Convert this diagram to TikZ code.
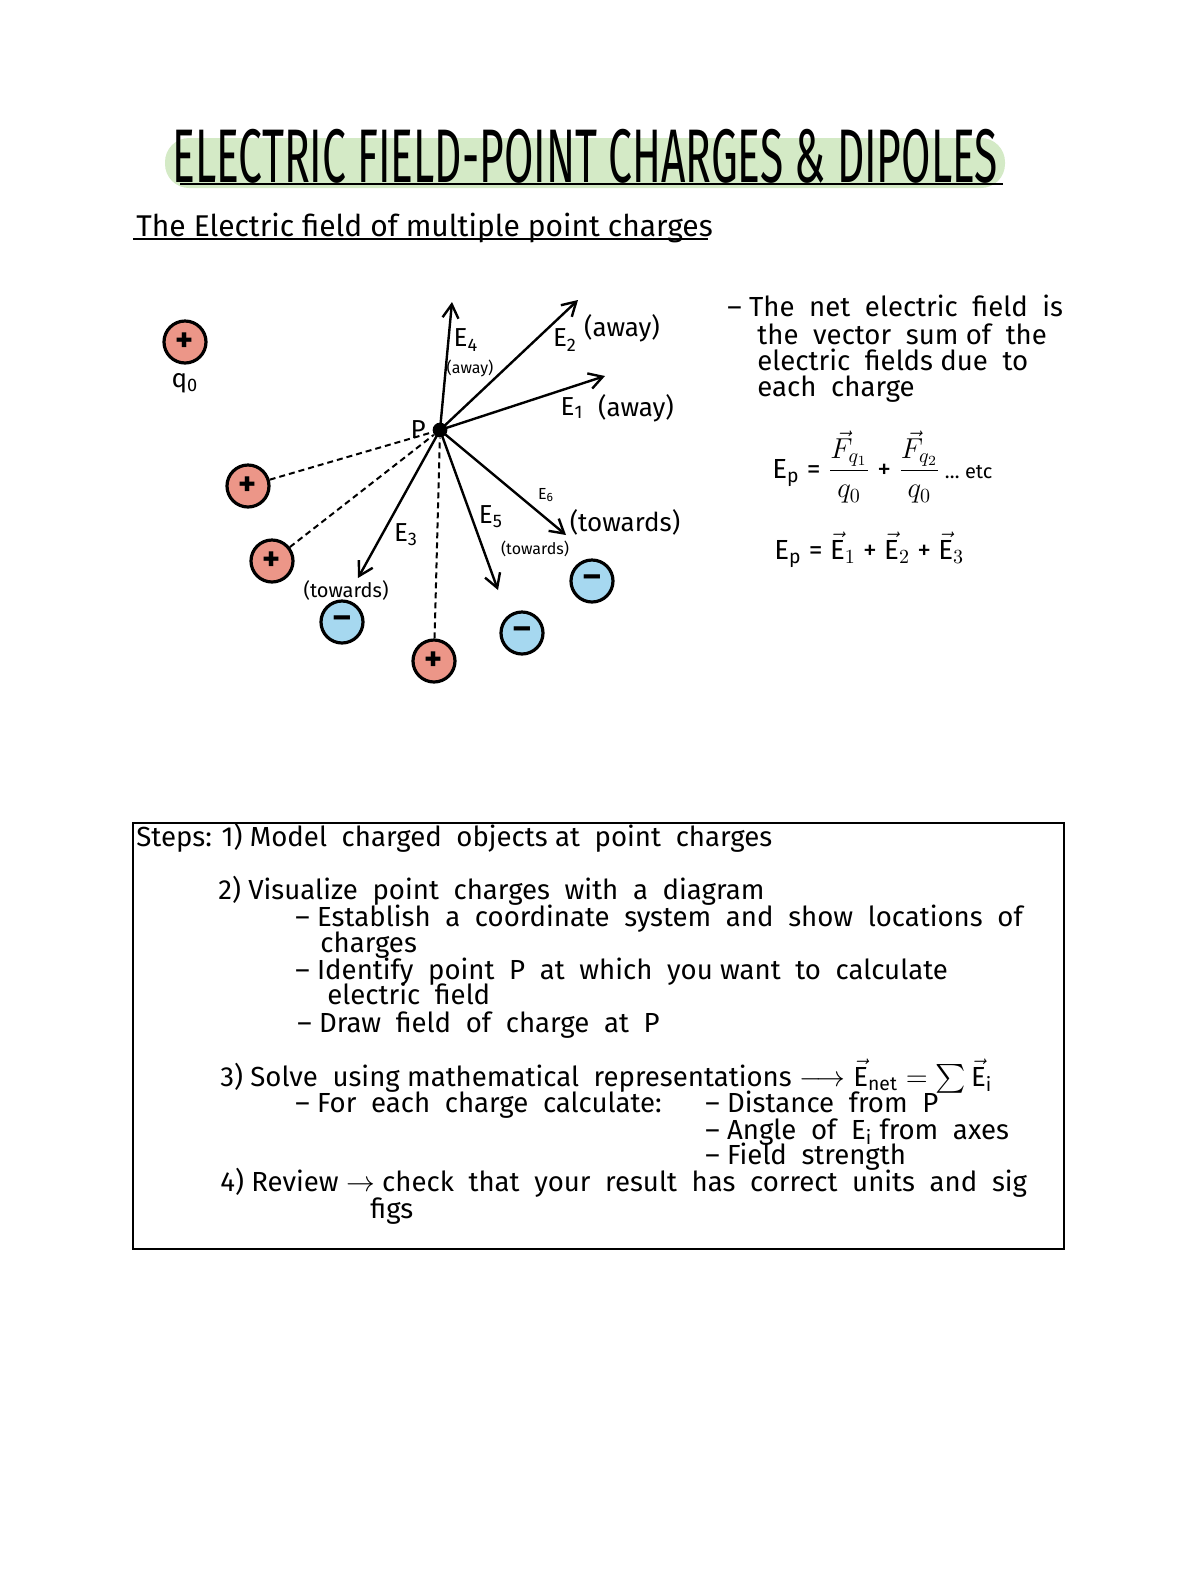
\documentclass[tikz,border=0pt]{standalone}
\usepackage{fontspec}
\setmainfont{Fira Sans}
\newfontfamily\titlefont[FakeStretch=0.56]{Fira Sans}
\usepackage{amsmath}
\usepackage{xcolor}
\usetikzlibrary{arrows.meta,positioning,calc}
\definecolor{plusred}{RGB}{236,150,136}
\definecolor{minusblue}{RGB}{166,216,240}
\definecolor{titlegreen}{RGB}{212,234,198}

\begin{document}
\begin{tikzpicture}[
  x=0.5pt,y=-0.5pt,
  font=\fontsize{13.8}{16}\selectfont,
  plusq/.style={circle,draw,line width=1.6pt,fill=plusred,minimum size=21pt,inner sep=0pt,font=\bfseries\fontsize{17}{17}\selectfont},
  minusq/.style={plusq,fill=minusblue},
  fvec/.style={-{Straight Barb[length=2.4mm,width=2.8mm]},line width=1.2pt},
  link/.style={densely dashed,line width=1pt},
  lab/.style={inner sep=0pt,font=\fontsize{13}{15}\selectfont},
  mid/.style={inner sep=0pt,font=\fontsize{10}{12}\selectfont},
  sm/.style={inner sep=0pt,font=\fontsize{8}{9}\selectfont},
  txt/.style={anchor=base west,inner sep=0pt},
  uline/.style={line width=1.3pt}
]
\useasboundingbox (0,0) rectangle (1200,1570);

% title
\fill[titlegreen,rounded corners=12pt] (165,138) rectangle (1005,188);
\node[txt,font=\titlefont\fontsize{38}{40}\selectfont] (title) at (172,182) {ELECTRIC FIELD-POINT CHARGES \& DIPOLES};
\draw[uline] (180,184) -- (1003,184);
\node[txt,font=\fontsize{15}{17}\selectfont] (sub) at (136,236) {The Electric field of multiple point charges};
\draw[uline] (133,239) -- (708,239);

% charges
\node[plusq] (q0) at (185,342) {+};
\node[lab,below=4pt of q0] (q0lab) {q\textsubscript{0}};
\node[plusq] (q1) at (248,486) {+};
\node[plusq] (q2) at (272,561) {+};
\node[minusq] (q3) at (342,622) {--};
\node[plusq] (q4) at (434,661) {+};
\node[minusq] (q5) at (522,633) {--};
\node[minusq] (q6) at (592,581) {--};

\node[circle,fill,inner sep=2.6pt] (P) at (440,430) {};
\node[lab,left=3pt of P] (Plab) {P};

\coordinate (t1) at (605,376);
\coordinate (t2) at (578,300);
\coordinate (t3) at (358,578);
\coordinate (t4) at (452,302);
\coordinate (t5) at (498,590);
\coordinate (t6) at (566,535);

\draw[link] (q1) -- (P);
\draw[link] (q2) -- (P);
\draw[link] (q4) -- (P);

\draw[fvec] (P.center) -- (t1);
\draw[fvec] (P.center) -- (t2);
\draw[fvec] (P.center) -- (t3);
\draw[fvec] (P.center) -- (t4);
\draw[fvec] (P.center) -- (t5);
\draw[fvec] (P.center) -- (t6);

% field labels
\node[lab] (e1) at (572,408) {E\textsubscript{1}};
\node[lab] (a1) at (636,408) {(away)};
\node[lab] (e2) at (565,340) {E\textsubscript{2}};
\node[lab] (a2) at (622,328) {(away)};
\node[lab] (e3) at (406,535) {E\textsubscript{3}};
\node[mid] (a3) at (346,590) {(towards)};
\node[lab] (e4) at (466,340) {E\textsubscript{4}};
\node[sm] (a4) at (470,368) {(away)};
\node[lab] (e5) at (491,517) {E\textsubscript{5}};
\node[sm] (a5) at (535,549) {(towards)};
\node[sm] (e6) at (546,495) {E\textsubscript{6}};
\node[lab] (a6) at (625,522) {(towards)};

% note
\node[txt] (n1) at (727,316) {-- The\ \ net\ \ electric\ \ field\ \ is};
\node[txt] (n2) at (757,344) {the\ \ vector\ \ sum of\ \ the};
\node[txt] (n3) at (757,370) {electric\ \ fields\ due\ \ to};
\node[txt] (n4) at (757,396) {each\ \ charge};

\node[txt] (eq1) at (772,478) {E\textsubscript{p} = $\dfrac{\vec{F}_{q_1}}{q_0}$ + $\dfrac{\vec{F}_{q_2}}{q_0}$\,\fontsize{10}{12}\selectfont\dots\ etc};
\node[txt] (eq2) at (774,559) {E\textsubscript{p} = $\vec{\mathrm{E}}_1$ + $\vec{\mathrm{E}}_2$ + $\vec{\mathrm{E}}_3$};

% steps
\draw[line width=1.3pt] (133,823) rectangle (1064,1249);
\node[txt] (s1) at (136,846) {Steps: 1) Model\ \ charged\ \ objects at\ \ point\ \ charges};
\node[txt] (s2) at (218,899) {2) Visualize\ \ point\ \ charges\ \ with\ \ a\ \ diagram};
\node[txt] (s2a) at (295,926) {-- Establish\ \ a\ \ coordinate\ \ system\ \ and\ \ show\ \ locations\ \ of};
\node[txt] (s2b) at (320,952) {charges};
\node[txt] (s2c) at (295,979) {-- Identify\ \ point\ \ P\ \ at\ \ which\ \ you\ want\ \ to\ \ calculate};
\node[txt] (s2d) at (327,1004) {electric\ \ field};
\node[txt] (s2e) at (297,1032) {-- Draw\ \ field\ \ of\ \ charge\ \ at\ \ P};
\node[txt] (s3) at (220,1086) {3) Solve\ \ using\ mathematical\ \ representations $\longrightarrow \vec{\mathrm{E}}_{\text{net}} = \sum \vec{\mathrm{E}}_{\text{i}}$};
\node[txt] (s3a) at (295,1112) {-- For\ \ each\ \ charge\ \ calculate:};
\node[txt] (s3b) at (705,1112) {-- Distance\ \ from\ \ P};
\node[txt] (s3c) at (705,1139) {-- Angle\ \ of\ \ E\textsubscript{i} from\ \ axes};
\node[txt] (s3d) at (705,1164) {-- Field\ \ strength};
\node[txt] (s4) at (220,1191) {4) Review $\to$ check\ \ that\ \ your\ \ result\ \ has\ \ correct\ \ units\ \ and\ \ sig};
\node[txt] (s4b) at (370,1218) {figs};
\end{tikzpicture}
\end{document}
